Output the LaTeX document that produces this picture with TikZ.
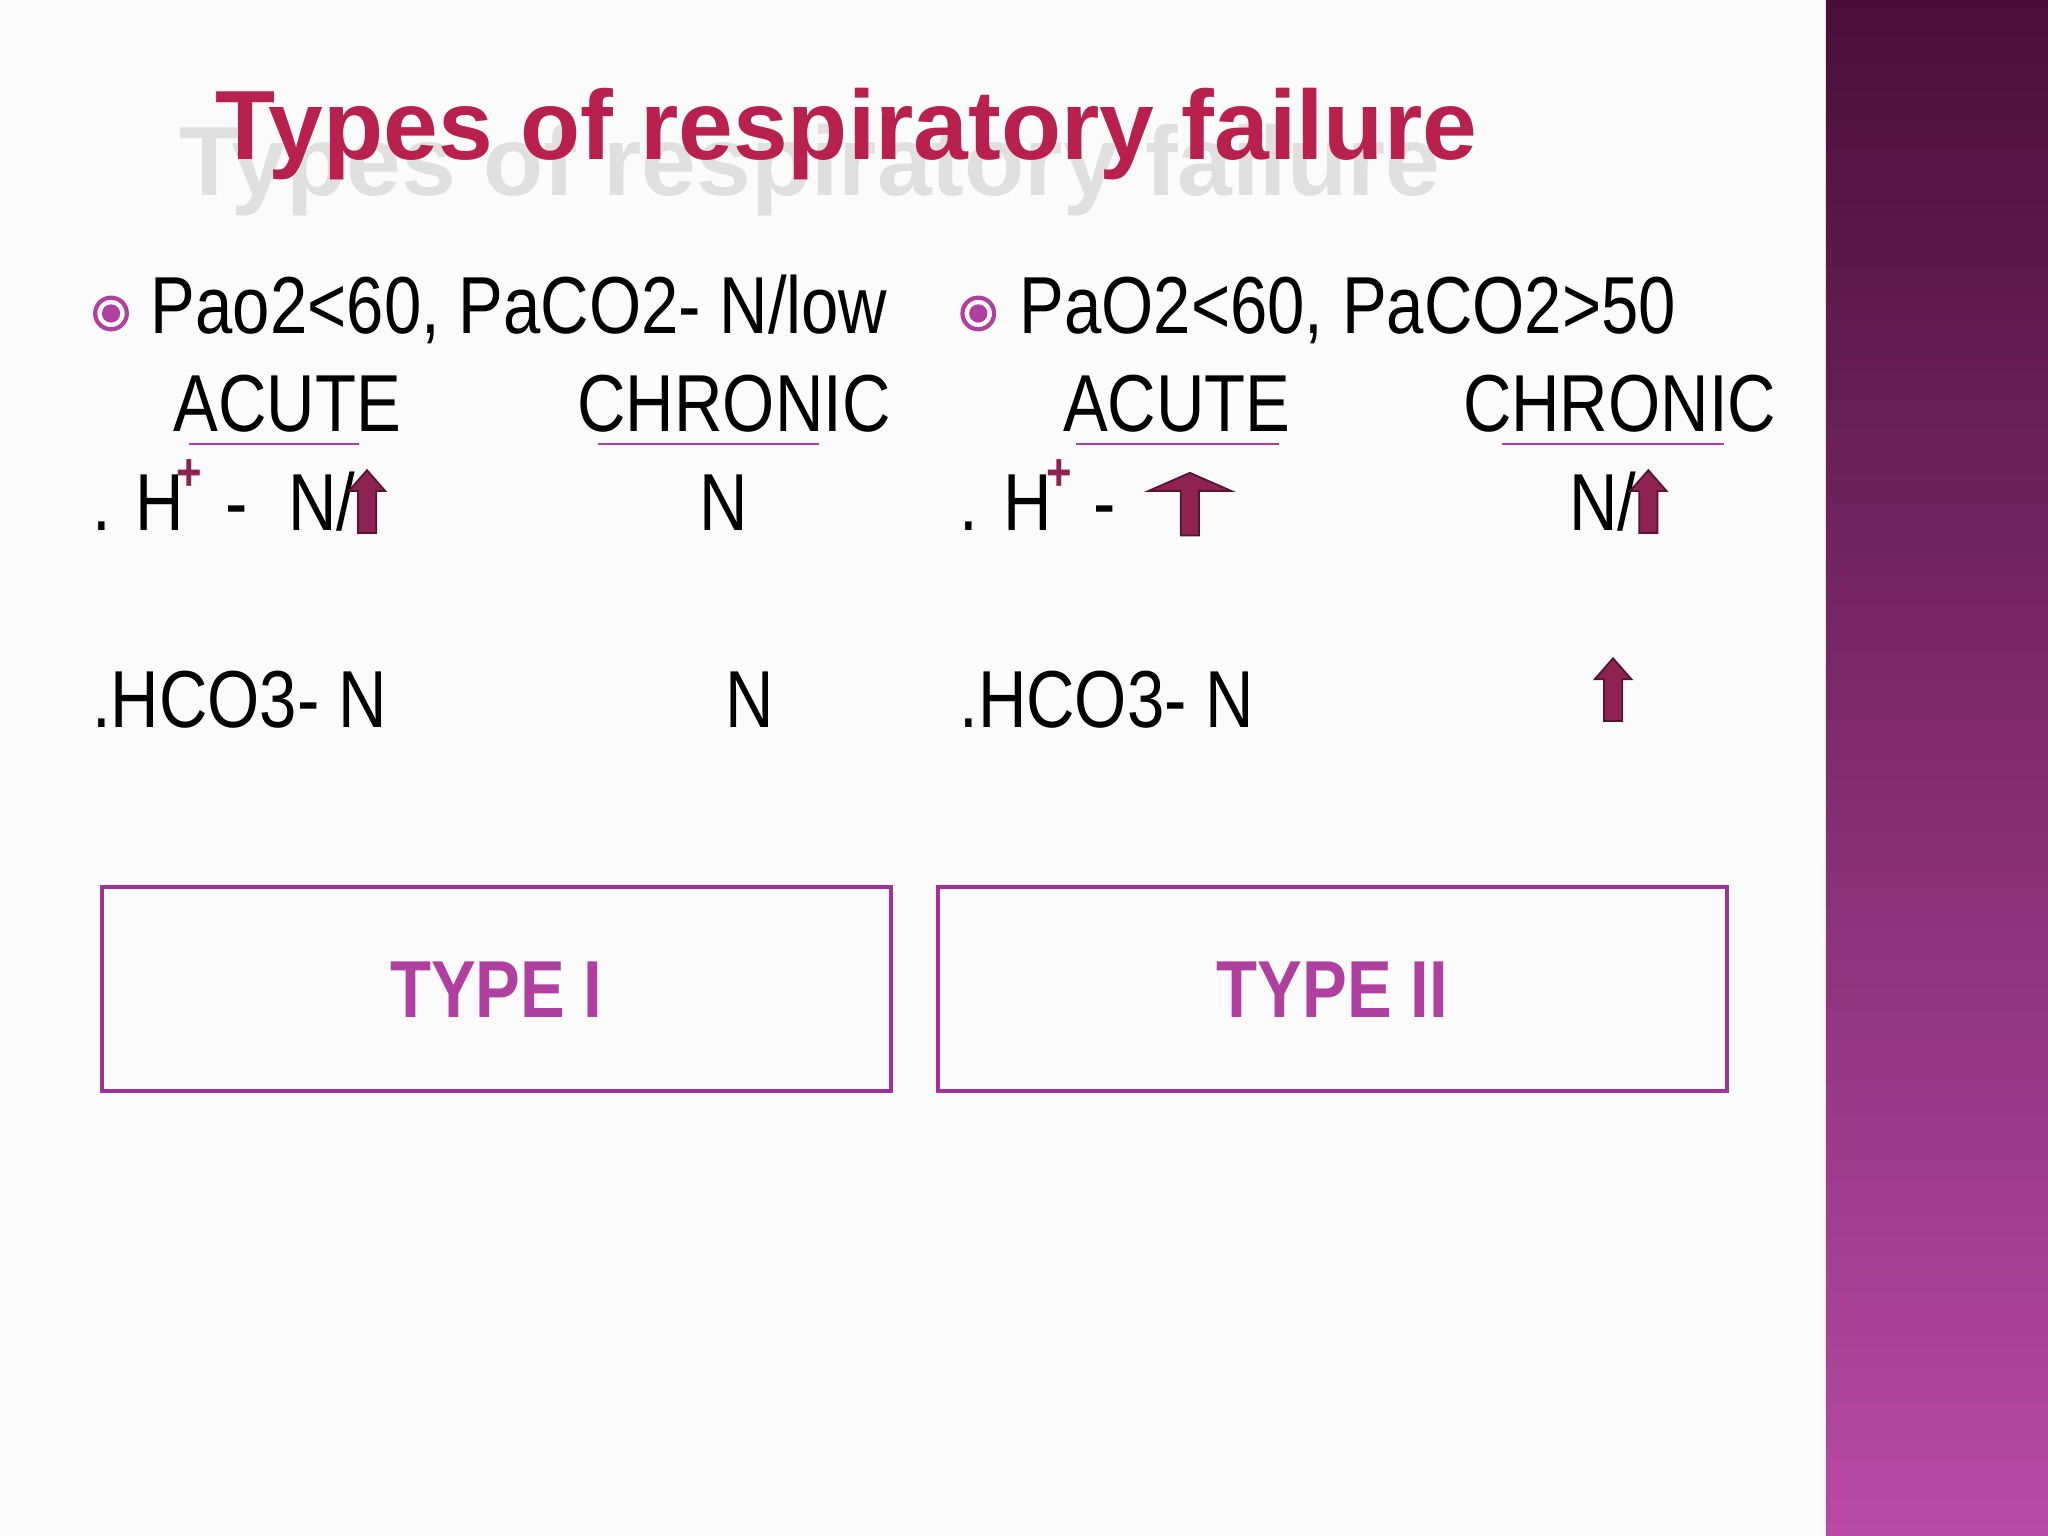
\documentclass[tikz,border=0pt]{standalone}
\usepackage{fontspec}
\setmainfont[FakeStretch=0.83]{Liberation Sans}
\newfontfamily\titlefont{Liberation Sans}
\definecolor{titlec}{HTML}{B8204E}
\definecolor{arrc}{HTML}{8E2250}
\definecolor{boxc}{HTML}{A0309A}
\definecolor{typec}{HTML}{B040A0}
\definecolor{bandtop}{HTML}{4A0E38}
\definecolor{bandbot}{HTML}{B84AA6}
\tikzset{
  txt/.style={font=\fontsize{23}{23}\selectfont, inner sep=0pt, anchor=base west},
  hdr/.style={font=\fontsize{23}{23}\selectfont, inner sep=0pt, anchor=base},
  uline/.style={draw=typec, line width=0.8pt},
  plus/.style={font=\bfseries\fontsize{15}{15}\selectfont, text=arrc, inner sep=0pt},
  tbox/.style={draw=boxc, line width=1.2pt},
  typet/.style={font=\bfseries\fontsize{23}{23}\selectfont, text=typec, inner sep=0pt},
  bul/.style={circle, draw=typec, line width=1.2pt, minimum size=9pt, inner sep=0pt},
  arrfill/.style={fill=arrc, draw=arrc!60!black, line width=0.5pt},
  pics/uparr/.style={code={
    \path[arrfill] (-7,24) -- (-7,-8) -- (-14,-8) -- (0,-24) -- (14,-8) -- (7,-8) -- (7,24) -- cycle;}},
  pics/bigarr/.style={code={
    \path[arrfill] (-7,24) -- (-7,-10) -- (-32,-10) -- (0,-24) -- (32,-10) -- (7,-10) -- (7,24) -- cycle;}}
}
\begin{document}
\begin{tikzpicture}[x=0.013061cm,y=-0.013061cm]
\useasboundingbox (0,0) rectangle (1568,1176);
\fill[white!97!gray] (0,0) rectangle (1398,1176);
\shade[top color=bandtop, bottom color=bandbot] (1398,0) rectangle (1568,1176);
% title
\node[inner sep=0pt, font=\titlefont\bfseries\fontsize{28}{28}\selectfont, text=gray!45, opacity=0.5] at (620,130) {Types of respiratory failure};
\node (title) [inner sep=0pt, font=\titlefont\bfseries\fontsize{28}{28}\selectfont, text=titlec] at (648,103) {Types of respiratory failure};
% bullets
\node (b1) [bul] at (85,240) {};
\fill[typec] (b1) circle (2.6pt);
\node (t1) [txt] at (115,255) {Pao2<60, PaCO2- N/low};
\node (b2) [bul] at (749,240) {};
\fill[typec] (b2) circle (2.6pt);
\node (t2) [txt] at (780,255) {PaO2<60, PaCO2>50};
% headers
\node (a1) [hdr] at (220,330) {ACUTE};
\node (c1) [hdr] at (562,330) {CHRONIC};
\node (a2) [hdr] at (901,330) {ACUTE};
\node (c2) [hdr] at (1240,330) {CHRONIC};
\draw[uline] (145,340) -- (275,340);
\draw[uline] (458,340) -- (627,340);
\draw[uline] (824,340) -- (979,340);
\draw[uline] (1150,340) -- (1320,340);
% row H+
\node (d1) [txt] at (70,406) {.};
\node (h1) [txt] at (103,406) {H};
\node (m1) [txt] at (172,406) {-};
\node (nn1) [txt] at (220,406) {N/};
\node (p1) [plus] at (145,364) {+};
\pic at (281,384) {uparr};
\node (n1) [txt] at (535,406) {N};
\node (d2) [txt] at (734,406) {.};
\node (h2) [txt] at (768,406) {H};
\node (m2) [txt] at (837,406) {-};
\node (p2) [plus] at (811,364) {+};
\pic at (911,386) {bigarr};
\node (n2) [txt] at (1201,406) {N/};
\pic at (1262,384) {uparr};
% row HCO3
\node (hc1) [txt] at (70,557) {.HCO3- N};
\node (n3) [txt] at (555,557) {N};
\node (hc2) [txt] at (734,557) {.HCO3- N};
\pic at (1235,528) {uparr};
% boxes
\draw[tbox] (78,679) rectangle (682,835);
\node (ty1) [typet] at (380,758) {TYPE I};
\draw[tbox] (718,679) rectangle (1322,835);
\node (ty2) [typet] at (1020,758) {TYPE II};
\end{tikzpicture}
\end{document}
